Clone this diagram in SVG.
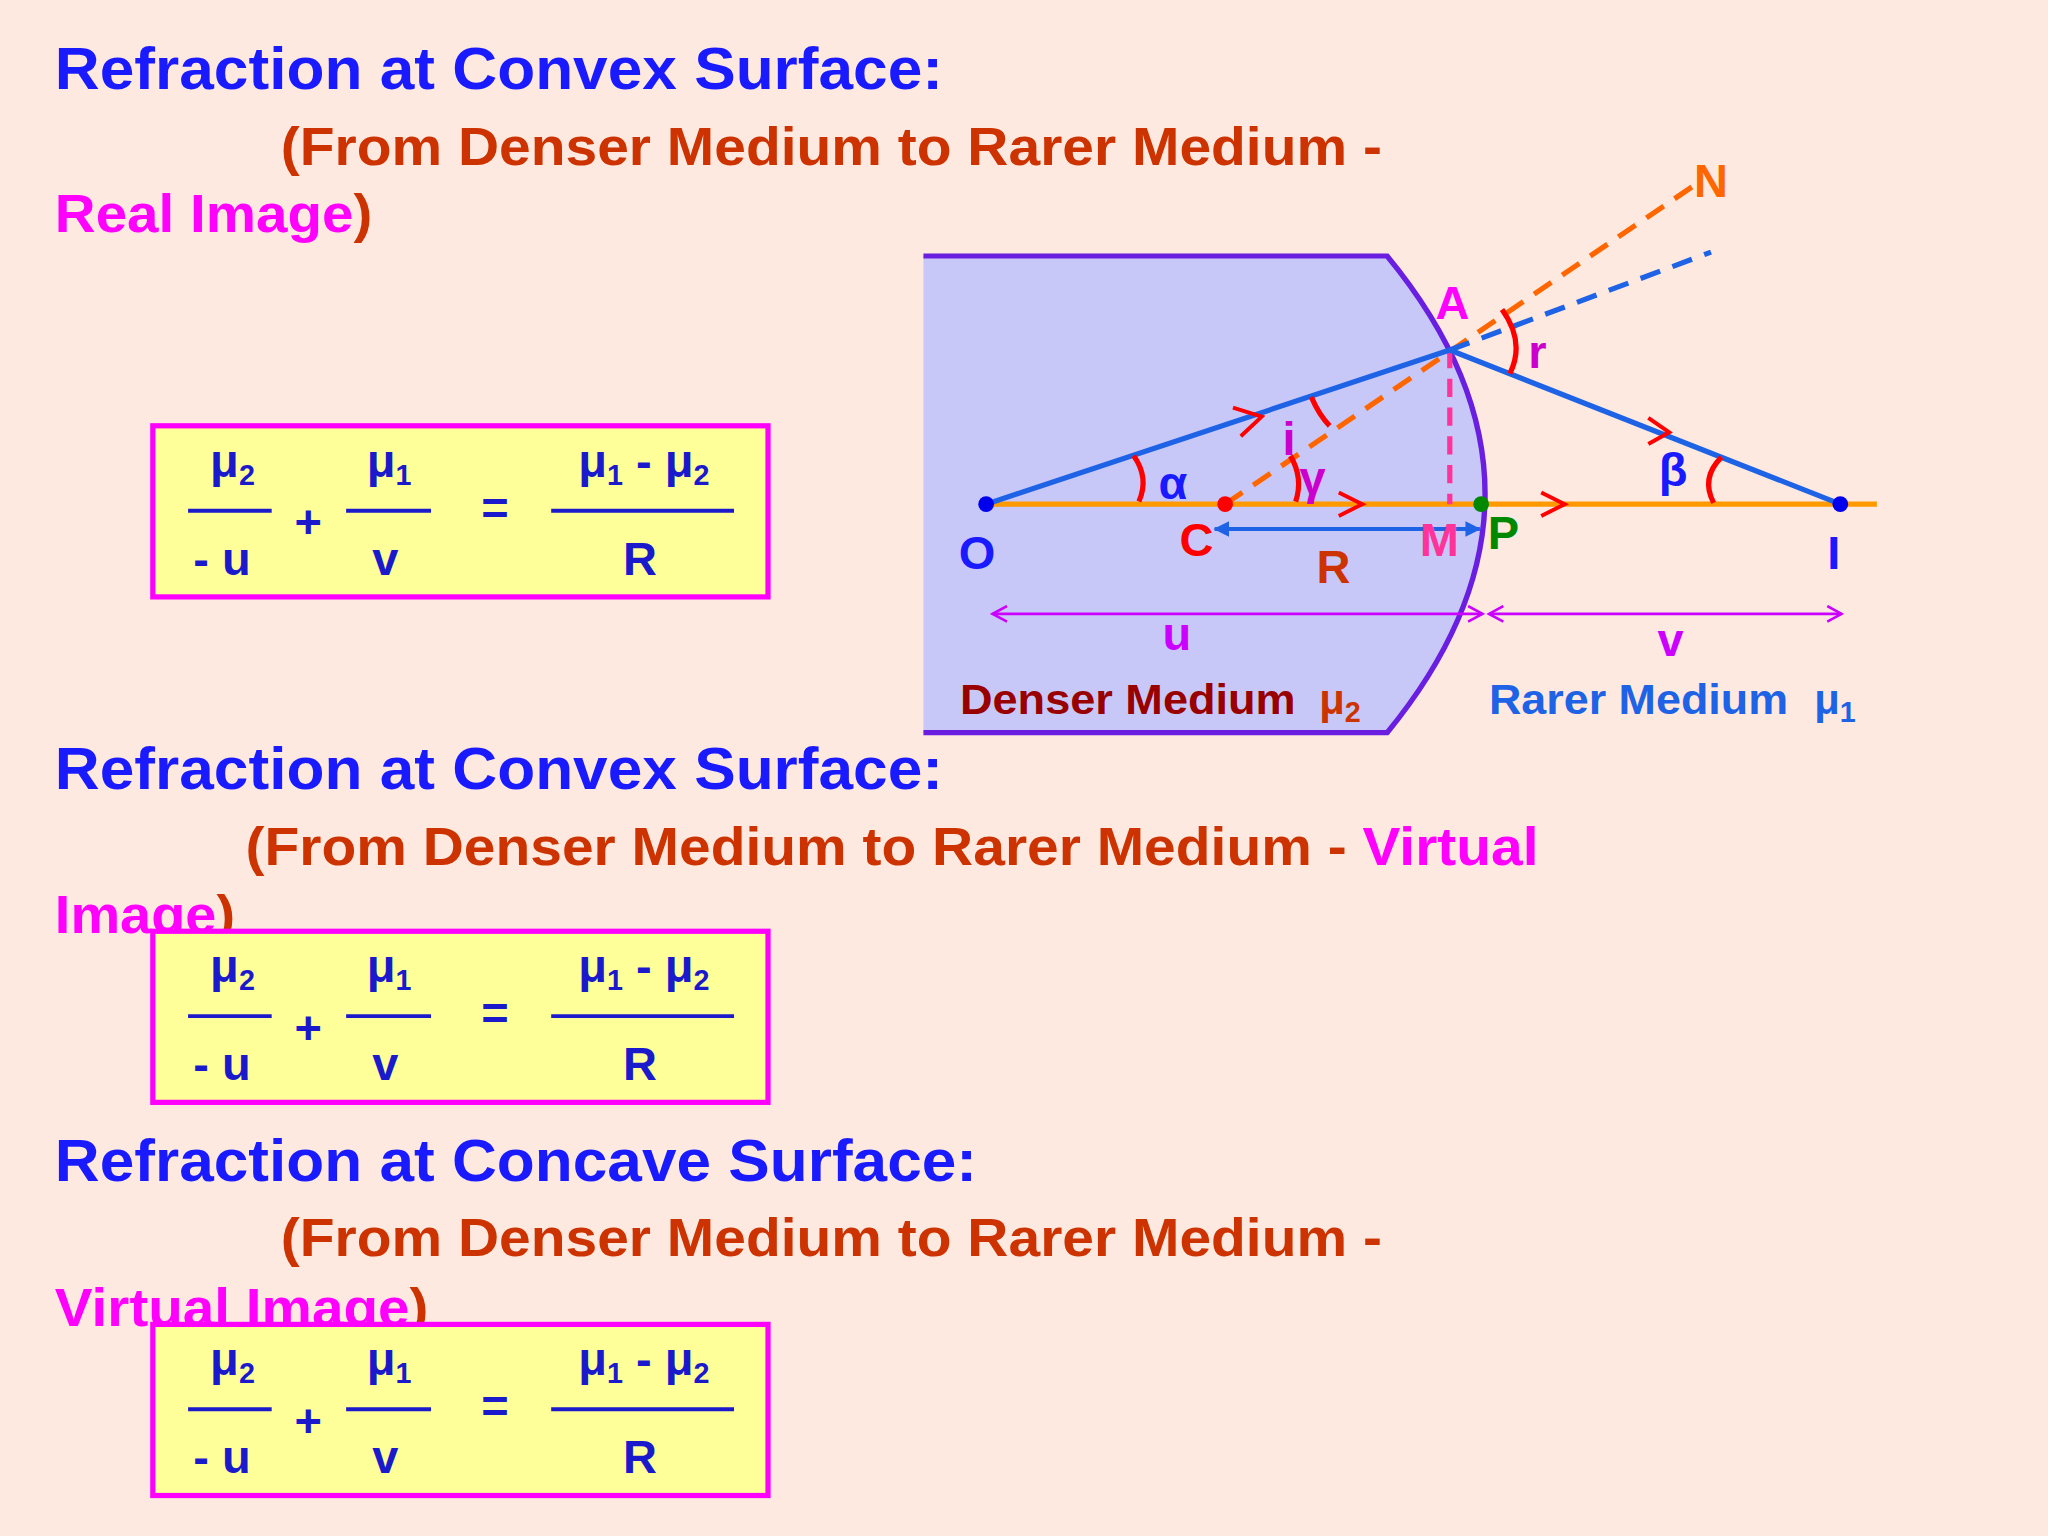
<svg xmlns="http://www.w3.org/2000/svg" width="2048" height="1536" viewBox="0 0 2048 1536">
<style>
text{font-family:"Liberation Sans",Arial,sans-serif;font-weight:bold}
.t{font-size:46px;fill:#1a1aff}
.s{font-size:41px;fill:#cc3300}
.m{fill:#ff00ff}
.box{fill:#ffff99;stroke:#ff00ff;stroke-width:4}
.f{font-size:36px;fill:#1a1acc;text-anchor:middle}
.fl{stroke:#1a1acc;stroke-width:3}
.sub{font-size:22px}
.lb{font-size:36px}
.ray{stroke:#1e63e6;stroke-width:4;fill:none}
.chev{stroke:#ff0000;stroke-width:3;fill:none}
.arc{stroke:#ff0000;stroke-width:4;fill:none}
</style>
<defs>
<marker id="pa" markerWidth="14" markerHeight="14" refX="12" refY="7" orient="auto-start-reverse" markerUnits="userSpaceOnUse"><path d="M1,1 L12,7 L1,13" fill="none" stroke="#cc00ff" stroke-width="2"/></marker>
<marker id="ba" markerWidth="12" markerHeight="12" refX="11" refY="6" orient="auto-start-reverse" markerUnits="userSpaceOnUse"><path d="M0,0 L12,6 L0,12 Z" fill="#1e63e6"/></marker>
<g id="formula">
<rect class="box" x="117" y="0" width="471" height="131"/>
<text class="f" x="178" y="39">μ<tspan class="sub" dy="6">2</tspan></text>
<line class="fl" x1="144" y1="65" x2="208" y2="65"/>
<text class="f" x="170" y="114">- u</text>
<text class="f" x="236" y="86">+</text>
<text class="f" x="298" y="39">μ<tspan class="sub" dy="6">1</tspan></text>
<line class="fl" x1="265" y1="65" x2="330" y2="65"/>
<text class="f" x="295" y="114">v</text>
<text class="f" x="379" y="75">=</text>
<text class="f" x="493" y="39">μ<tspan class="sub" dy="6">1</tspan><tspan dy="-6"> - μ</tspan><tspan class="sub" dy="6">2</tspan></text>
<line class="fl" x1="422" y1="65" x2="562" y2="65"/>
<text class="f" x="490" y="114">R</text>
</g>
</defs>
<rect width="2048" height="1536" fill="#fde9e0"/>
<g transform="scale(1.30612)">
<g id="heading1">
<text class="t" x="42" y="68" textLength="680" lengthAdjust="spacingAndGlyphs">Refraction at Convex Surface:</text>
<text class="s" x="215" y="126" textLength="843" lengthAdjust="spacingAndGlyphs">(From Denser Medium to Rarer Medium -</text>
<text class="s" x="42" y="178" textLength="243" lengthAdjust="spacingAndGlyphs"><tspan class="m">Real Image</tspan>)</text>
</g>
<g id="box1"><use href="#formula" y="326"/></g>
<g id="heading2">
<text class="t" x="42" y="604" textLength="680" lengthAdjust="spacingAndGlyphs">Refraction at Convex Surface:</text>
<text class="s" x="188" y="662" textLength="990" lengthAdjust="spacingAndGlyphs">(From Denser Medium to Rarer Medium - <tspan class="m">Virtual</tspan></text>
<text class="s" x="42" y="714" textLength="138" lengthAdjust="spacingAndGlyphs"><tspan class="m">Image</tspan>)</text>
</g>
<g id="box2"><use href="#formula" y="713"/></g>
<g id="heading3">
<text class="t" x="42" y="904" textLength="706" lengthAdjust="spacingAndGlyphs">Refraction at Concave Surface:</text>
<text class="s" x="215" y="962" textLength="843" lengthAdjust="spacingAndGlyphs">(From Denser Medium to Rarer Medium -</text>
<text class="s" x="42" y="1015" textLength="286" lengthAdjust="spacingAndGlyphs"><tspan class="m">Virtual Image</tspan>)</text>
</g>
<g id="box3"><use href="#formula" y="1014"/></g>

<g id="medium">
<path d="M707,196 L1062,196 Q1212,378 1062,561 L707,561 Z" fill="#c8c8f8"/>
<path d="M707,196 L1062,196 Q1212,378 1062,561 L707,561" fill="none" stroke="#6a1fe0" stroke-width="4"/>
</g>
<g id="connectors">
<line x1="755" y1="386" x2="1437" y2="386" stroke="#ff9900" stroke-width="4"/>
<line x1="938" y1="386" x2="1300" y2="140" stroke="#ff6600" stroke-width="4" stroke-dasharray="16,10"/>
<line x1="1110" y1="268" x2="1310" y2="193" stroke="#1e63e6" stroke-width="4" stroke-dasharray="16,10"/>
<line x1="1110" y1="268" x2="1110" y2="386" stroke="#ff3399" stroke-width="4" stroke-dasharray="14,8"/>
<line class="ray" x1="755" y1="386" x2="1110" y2="268"/>
<line class="ray" x1="1110" y1="268" x2="1409" y2="386"/>
<path class="chev" d="M944,312 L966,319 L950,334"/>
<path class="chev" d="M1262,320 L1278,331 L1262,340"/>
<path class="chev" d="M1025,377 L1043,386 L1025,395"/>
<path class="chev" d="M1180,377 L1198,386 L1180,395"/>
<line x1="930" y1="405" x2="1133" y2="405" stroke="#1e63e6" stroke-width="3" marker-start="url(#ba)" marker-end="url(#ba)"/>
<line x1="760" y1="470" x2="1135" y2="470" stroke="#cc00ff" stroke-width="2" marker-start="url(#pa)" marker-end="url(#pa)"/>
<line x1="1140" y1="470" x2="1410" y2="470" stroke="#cc00ff" stroke-width="2" marker-start="url(#pa)" marker-end="url(#pa)"/>
<path class="arc" d="M868,349 Q880,366 872,384"/>
<path class="arc" d="M988,349 Q998,366 992,384"/>
<path class="arc" d="M1004,304 Q1010,318 1018,326"/>
<path class="arc" d="M1150,237 Q1168,262 1156,286"/>
<path class="arc" d="M1318,350 Q1302,366 1312,385"/>
</g>
<g id="points">
<circle cx="755" cy="386" r="6" fill="#0000ee"/>
<circle cx="938" cy="386" r="6" fill="#ff0000"/>
<circle cx="1134" cy="386" r="6" fill="#008800"/>
<circle cx="1409" cy="386" r="6" fill="#0000ee"/>
</g>
<g id="labels">
<text class="lb" x="734" y="436" fill="#1a1aff">O</text>
<text class="lb" x="903" y="426" fill="#ff0000">C</text>
<text class="lb" x="1008" y="446" fill="#cc3300">R</text>
<text class="lb" x="1087" y="426" fill="#ff3399">M</text>
<text class="lb" x="1139" y="420" fill="#008800">P</text>
<text class="lb" x="1399" y="436" fill="#1a1aff">I</text>
<text class="lb" x="1099" y="244" fill="#ff00ff">A</text>
<text class="lb" x="1297" y="151" fill="#ff6600">N</text>
<text class="lb" x="1170" y="282" fill="#cc00cc">r</text>
<text class="lb" x="982" y="348" fill="#cc00cc">i</text>
<text class="lb" x="887" y="382" fill="#1a1aff">α</text>
<text class="lb" x="995" y="378" fill="#cc00cc">γ</text>
<text class="lb" x="1270" y="372" fill="#1a1aff">β</text>
<text class="lb" x="890" y="498" fill="#cc00ff">u</text>
<text class="lb" x="1269" y="502" fill="#cc00ff">v</text>
<text x="735" y="547" font-size="32" fill="#990000" textLength="257" lengthAdjust="spacingAndGlyphs">Denser Medium</text>
<text x="1010" y="547" font-size="32" fill="#cc3300">μ<tspan class="sub" dy="6">2</tspan></text>
<text x="1140" y="547" font-size="32" fill="#1e63e6" textLength="229" lengthAdjust="spacingAndGlyphs">Rarer Medium</text>
<text x="1389" y="547" font-size="32" fill="#1e63e6">μ<tspan class="sub" dy="6">1</tspan></text>
</g>
</g>
</svg>
